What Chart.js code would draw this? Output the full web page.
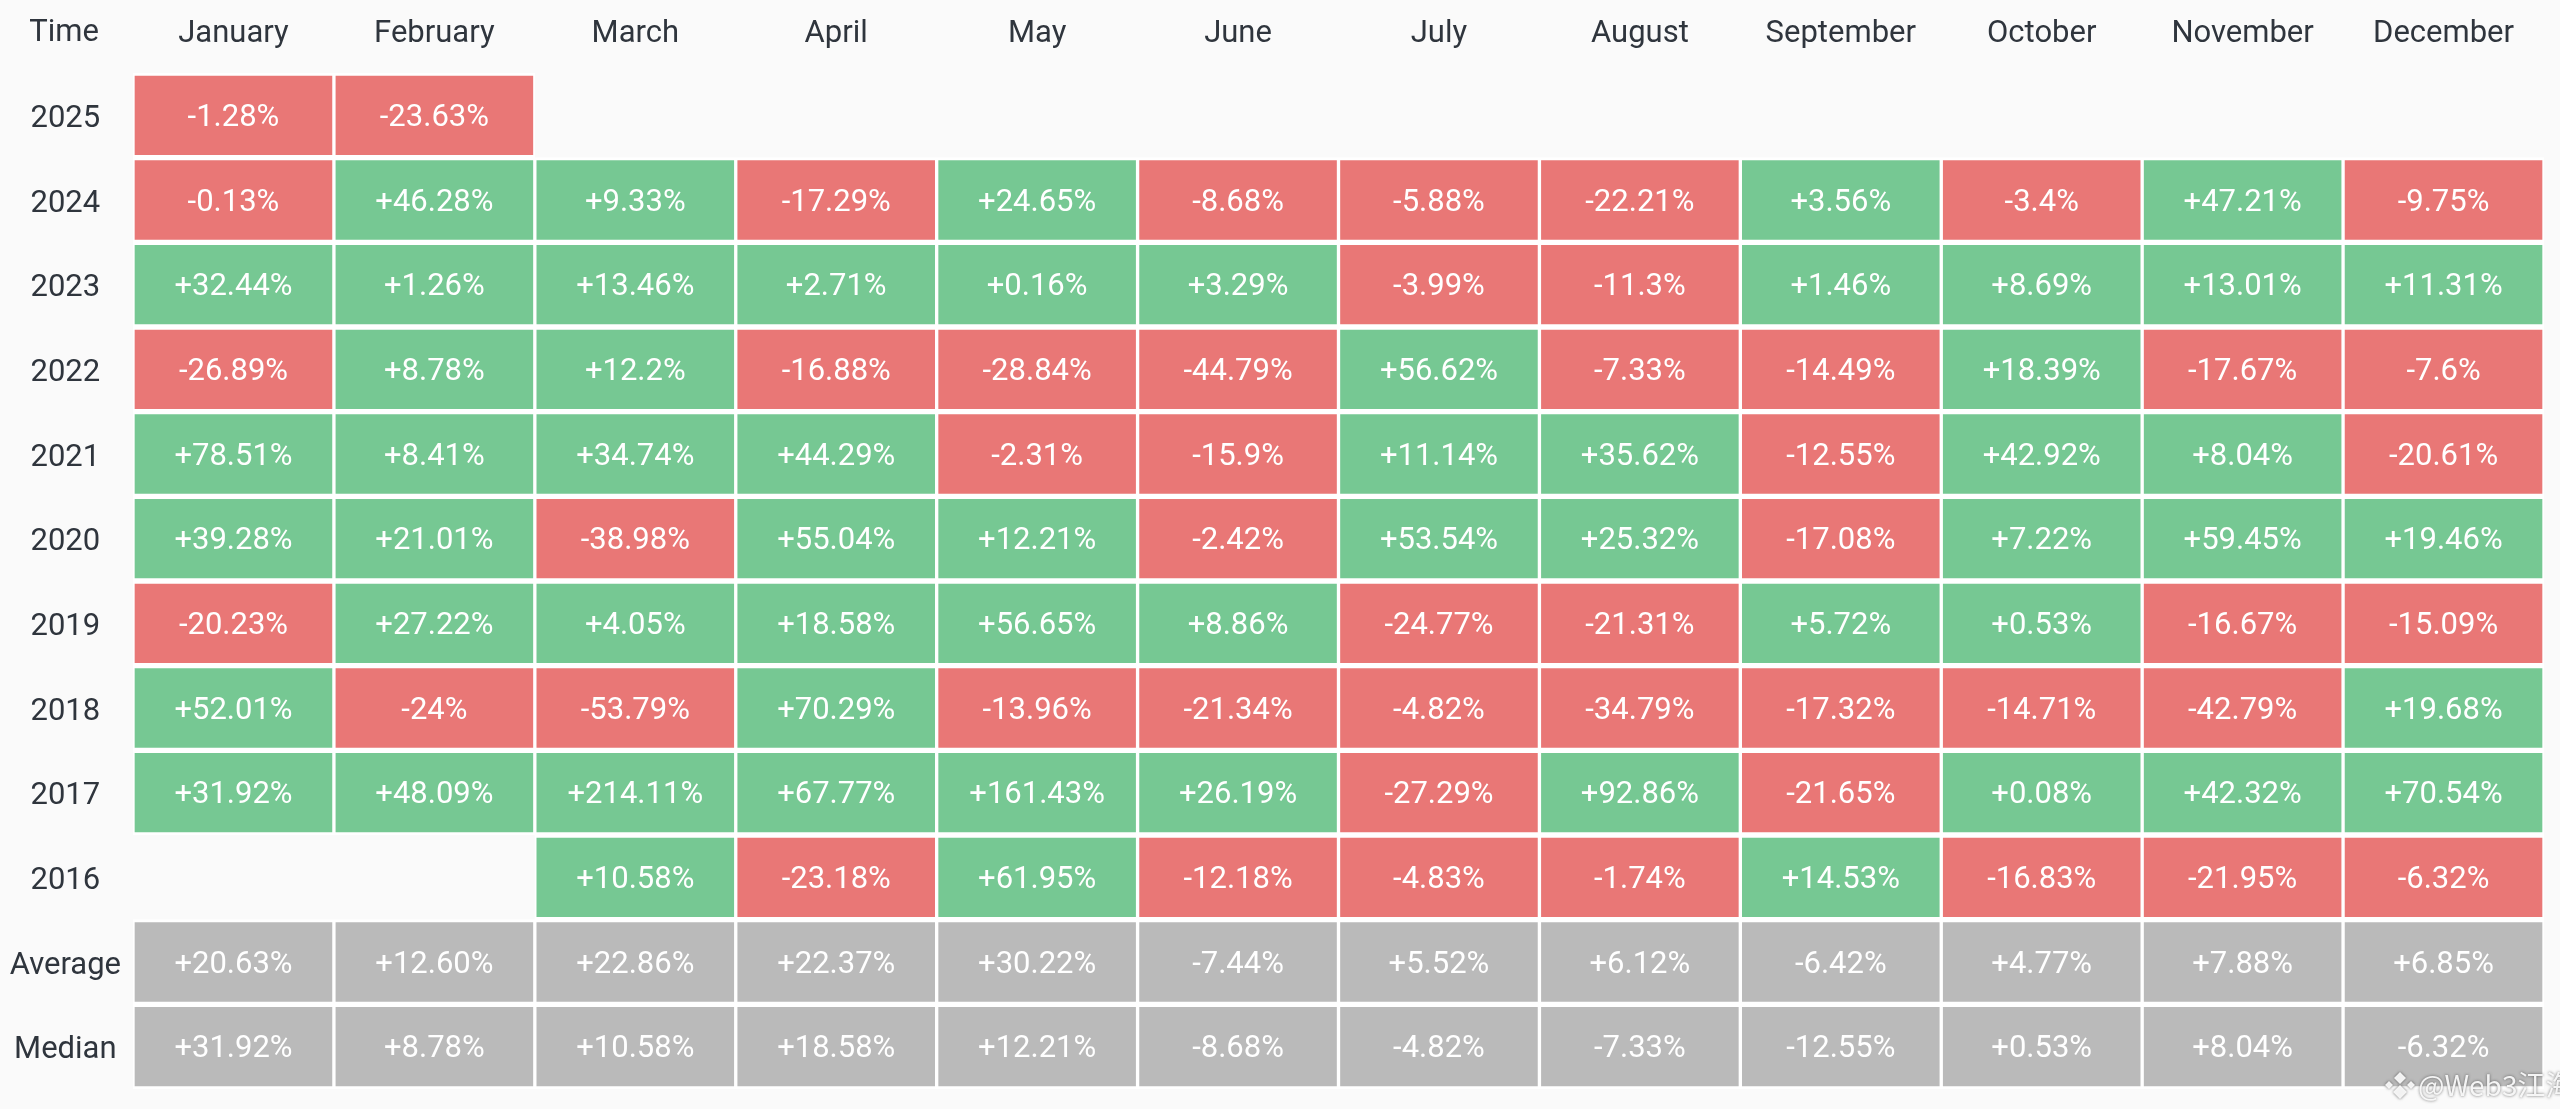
<!DOCTYPE html>
<html>
<head>
<meta charset="utf-8">
<title>Monthly returns</title>
<script src="https://cdn.jsdelivr.net/npm/chart.js@4/dist/chart.umd.min.js"></script>
<style>
  html, body { margin: 0; padding: 0; background: #fafafa; }
  #chart-box { width: 2560px; height: 1109px; }
</style>
</head>
<body>
<div id="chart-box"><canvas id="returnsChart" width="2560" height="1109"></canvas></div>
<script>
const months = ['January', 'February', 'March', 'April', 'May', 'June', 'July', 'August', 'September', 'October', 'November', 'December'];
const rowNames = ['2025', '2024', '2023', '2022', '2021', '2020', '2019', '2018', '2017', '2016', 'Average', 'Median'];

const y2025 = [-1.28, -23.63, null, null, null, null, null, null, null, null, null, null];
const y2024 = [-0.13, 46.28, 9.33, -17.29, 24.65, -8.68, -5.88, -22.21, 3.56, -3.4, 47.21, -9.75];
const y2023 = [32.44, 1.26, 13.46, 2.71, 0.16, 3.29, -3.99, -11.3, 1.46, 8.69, 13.01, 11.31];
const y2022 = [-26.89, 8.78, 12.2, -16.88, -28.84, -44.79, 56.62, -7.33, -14.49, 18.39, -17.67, -7.6];
const y2021 = [78.51, 8.41, 34.74, 44.29, -2.31, -15.9, 11.14, 35.62, -12.55, 42.92, 8.04, -20.61];
const y2020 = [39.28, 21.01, -38.98, 55.04, 12.21, -2.42, 53.54, 25.32, -17.08, 7.22, 59.45, 19.46];
const y2019 = [-20.23, 27.22, 4.05, 18.58, 56.65, 8.86, -24.77, -21.31, 5.72, 0.53, -16.67, -15.09];
const y2018 = [52.01, -24, -53.79, 70.29, -13.96, -21.34, -4.82, -34.79, -17.32, -14.71, -42.79, 19.68];
const y2017 = [31.92, 48.09, 214.11, 67.77, 161.43, 26.19, -27.29, 92.86, -21.65, 0.08, 42.32, 70.54];
const y2016 = [null, null, 10.58, -23.18, 61.95, -12.18, -4.83, -1.74, 14.53, -16.83, -21.95, -6.32];
const averages = [20.63, 12.60, 22.86, 22.37, 30.22, -7.44, 5.52, 6.12, -6.42, 4.77, 7.88, 6.85];
const medians = [31.92, 8.78, 10.58, 18.58, 12.21, -8.68, -4.82, -7.33, -12.55, 0.53, 8.04, -6.32];

const rows = [y2025, y2024, y2023, y2022, y2021, y2020, y2019, y2018, y2017, y2016, averages, medians];

const RED = '#e97776';
const GREEN = '#76c893';
const GREY = '#bababa';
const INK = '#2f353d';
const FONT = 'Roboto';

// last two rows are the summary ones, always grey and always 2 decimals
function isSummary(r) {
    return r >= rowNames.length - 2;
}

function cellColor(v, r) {
    if (isSummary(r)) return GREY;
    return v < 0 ? RED : GREEN;
}

function cellText(v, r) {
    const s = isSummary(r) ? Math.abs(v).toFixed(2) : String(Math.abs(v));
    return (v < 0 ? '-' : '+') + s + '%';
}

const datasets = rows.map((vals, r) => ({
    label: rowNames[r],
    data: vals.map(v => v === null ? null : [r - 0.5, r + 0.5]),
    backgroundColor: vals.map(v => cellColor(v, r)),
    borderColor: '#ffffff',
    borderWidth: { left: 2, right: 2, top: 3, bottom: 3 },
    borderSkipped: false,
    barPercentage: 1,
    categoryPercentage: 1,
    grouped: false
}));

// puts the percent text in the middle of each cell
const cellLabels = {
    id: 'cellLabels',
    afterDatasetsDraw(chart) {
        const ctx = chart.ctx;
        ctx.save();
        ctx.font = '400 31px ' + FONT;
        ctx.fillStyle = '#ffffff';
        ctx.textAlign = 'center';
        ctx.textBaseline = 'middle';
        rows.forEach((vals, r) => {
            const meta = chart.getDatasetMeta(r);
            vals.forEach((v, m) => {
                if (v === null) return;
                const bar = meta.data[m];
                ctx.fillText(cellText(v, r), bar.x, chart.scales.y.getPixelForValue(r) + 3);
            });
        });
        ctx.restore();
    }
};

// the "Time" corner heading sits on the same line as the month names
const cornerHeading = {
    id: 'cornerHeading',
    afterDraw(chart) {
        const ctx = chart.ctx;
        ctx.save();
        ctx.font = '31px ' + FONT;
        ctx.fillStyle = INK;
        ctx.textAlign = 'center';
        ctx.textBaseline = 'middle';
        ctx.fillText('Time', 64, 33);
        ctx.restore();
    }
};

// site watermark, bottom right corner
const watermark = {
    id: 'watermark',
    afterDraw(chart) {
        const ctx = chart.ctx;
        ctx.save();
        ctx.shadowColor = 'rgba(60,60,60,0.8)';
        ctx.shadowBlur = 3;
        ctx.fillStyle = 'rgba(250,250,250,0.95)';
        const diamonds = [[2400, 1078, 6], [2389, 1085, 4], [2411, 1085, 4], [2400, 1092, 7]];
        diamonds.forEach(d => {
            ctx.beginPath();
            ctx.moveTo(d[0], d[1] - d[2]);
            ctx.lineTo(d[0] + d[2], d[1]);
            ctx.lineTo(d[0], d[1] + d[2]);
            ctx.lineTo(d[0] - d[2], d[1]);
            ctx.closePath();
            ctx.fill();
        });
        ctx.font = '28px "Noto Sans CJK SC"';
        ctx.textAlign = 'left';
        ctx.textBaseline = 'middle';
        ctx.fillText('@Web3江海', 2418, 1085);
        ctx.restore();
    }
};

new Chart(document.getElementById('returnsChart').getContext('2d'), {
    type: 'bar',
    data: { labels: months, datasets: datasets },
    plugins: [cellLabels, cornerHeading, watermark],
    options: {
        responsive: false,
        animation: false,
        events: [],
        layout: { padding: { left: 0, top: 0, right: 16, bottom: 20 } },
        plugins: { legend: { display: false }, tooltip: { enabled: false } },
        scales: {
            x: {
                position: 'top',
                grid: { display: false, drawTicks: false },
                border: { display: false },
                afterFit(axis) { axis.height = 73; },
                ticks: { color: INK, font: { family: FONT, size: 31 }, padding: 20, maxRotation: 0, autoSkip: false }
            },
            y: {
                reverse: true,
                min: -0.5,
                max: rowNames.length - 0.5,
                grid: { display: false, drawTicks: false },
                border: { display: false },
                // no extra room for the first and last tick label, rows fill the whole height
                afterFit(axis) { axis.width = 133; axis.paddingTop = 0; axis.paddingBottom = 0; },
                afterBuildTicks(axis) { axis.ticks = rowNames.map((n, i) => ({ value: i })); },
                ticks: {
                    color: INK,
                    font: { family: FONT, size: 31 },
                    padding: 12,
                    labelOffset: 4,
                    crossAlign: 'center',
                    autoSkip: false,
                    callback: value => rowNames[value]
                }
            }
        }
    }
});
</script>
</body>
</html>
